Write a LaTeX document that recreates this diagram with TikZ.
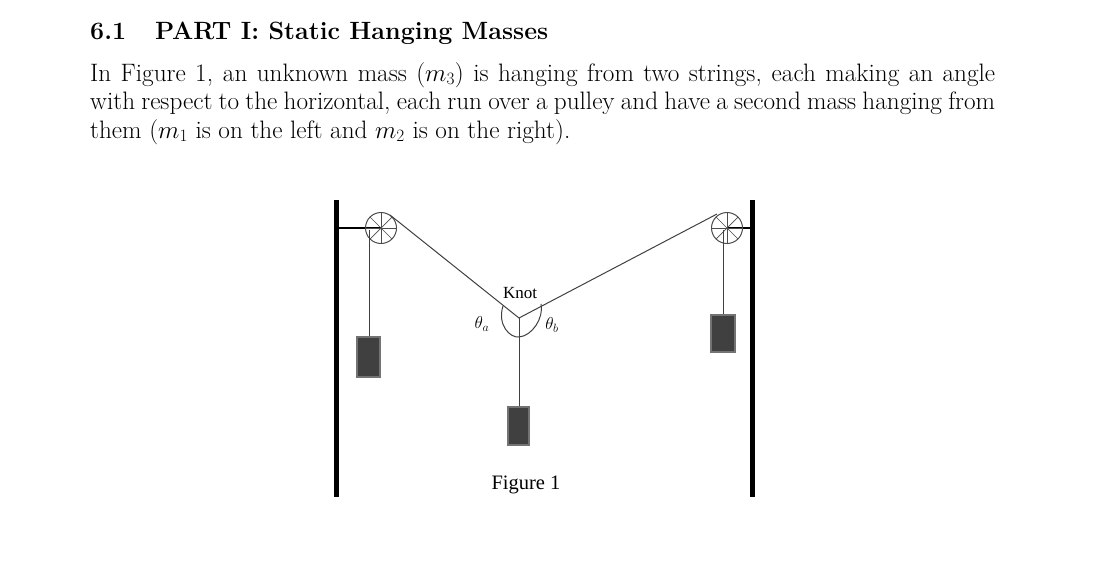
\documentclass[tikz,border=0pt]{standalone}
\usepackage{fontspec}
\newfontfamily\timesf{Liberation Serif}
\begin{document}
\begin{tikzpicture}[x=1pt,y=-1pt,
  rope/.style={line width=1pt,black!75},
  pole/.style={line width=5pt},
  mass/.style={draw=black!55,fill=black!75,line width=1.2pt},
  lbl/.style={inner sep=0pt,font=\timesf\fontsize{17}{19}\selectfont}]
\useasboundingbox (0,0) rectangle (1102,582);
\node[anchor=base west,inner sep=0pt,font=\fontsize{25}{28}\selectfont\bfseries] (h1) at (90,39) {6.1};
\node[anchor=base west,inner sep=0pt,font=\fontsize{25}{28}\selectfont\bfseries] (h2) at (155,39) {PART I: Static Hanging Masses};
\node[anchor=north west,inner sep=0pt,text width=905pt,align=justify,font=\fontsize{25.2}{28.5}\selectfont] (para) at (90,62)
{In Figure 1, an unknown mass ($m_3$) is hanging from two strings, each making an angle\linebreak with respect to the horizontal, each run over a pulley and have a second mass hanging from\linebreak them ($m_1$ is on the left and $m_2$ is on the right).};
% poles
\draw[pole] (336,200) coordinate (pl1) -- (336,497) coordinate (pl2);
\draw[pole] (752,200) coordinate (pr1) -- (752,497) coordinate (pr2);
% pulleys
\coordinate (P1) at (381,228);
\coordinate (P2) at (727,228);
\draw[line width=2pt] (336,228) -- (P1);
\draw[line width=2pt] (752,228) -- (P2);
\foreach \P in {P1,P2}{
  \draw[black!70,line width=1pt] (\P) circle (15.5);
  \foreach \a in {0,45,...,315} \draw[black!70,line width=0.7pt] (\P) -- ++(\a:15.5);
}
% knot
\coordinate (K) at (519,318);
\coordinate (T1) at (390,215);
\coordinate (T2) at (717,214);
\draw[rope] (T1) -- (K) -- (T2);
\draw[rope] (K) -- (519,407);
\draw[rope] (369,230) -- (369,337);
\draw[rope] (723,230) -- (723,315);
% masses
\draw[mass] (357,337) rectangle (380,377);
\draw[mass] (711,315) rectangle (735,352);
\draw[mass] (508,407) rectangle (529,445);
% angle arcs
\draw[black!75,line width=1pt] (503,306) .. controls (497,325) and (510,338) .. (519,337) .. controls (532,336) and (544,318) .. (541,304);
\node[lbl] (knot) at (520,293) {Knot};
\node[lbl] (ta) at (482,324) {$\theta_a$};
\node[lbl] (tb) at (552,325) {$\theta_b$};
\node[inner sep=0pt,font=\timesf\fontsize{20.5}{23}\selectfont] (fig) at (526,485) {Figure 1};
\end{tikzpicture}
\end{document}
